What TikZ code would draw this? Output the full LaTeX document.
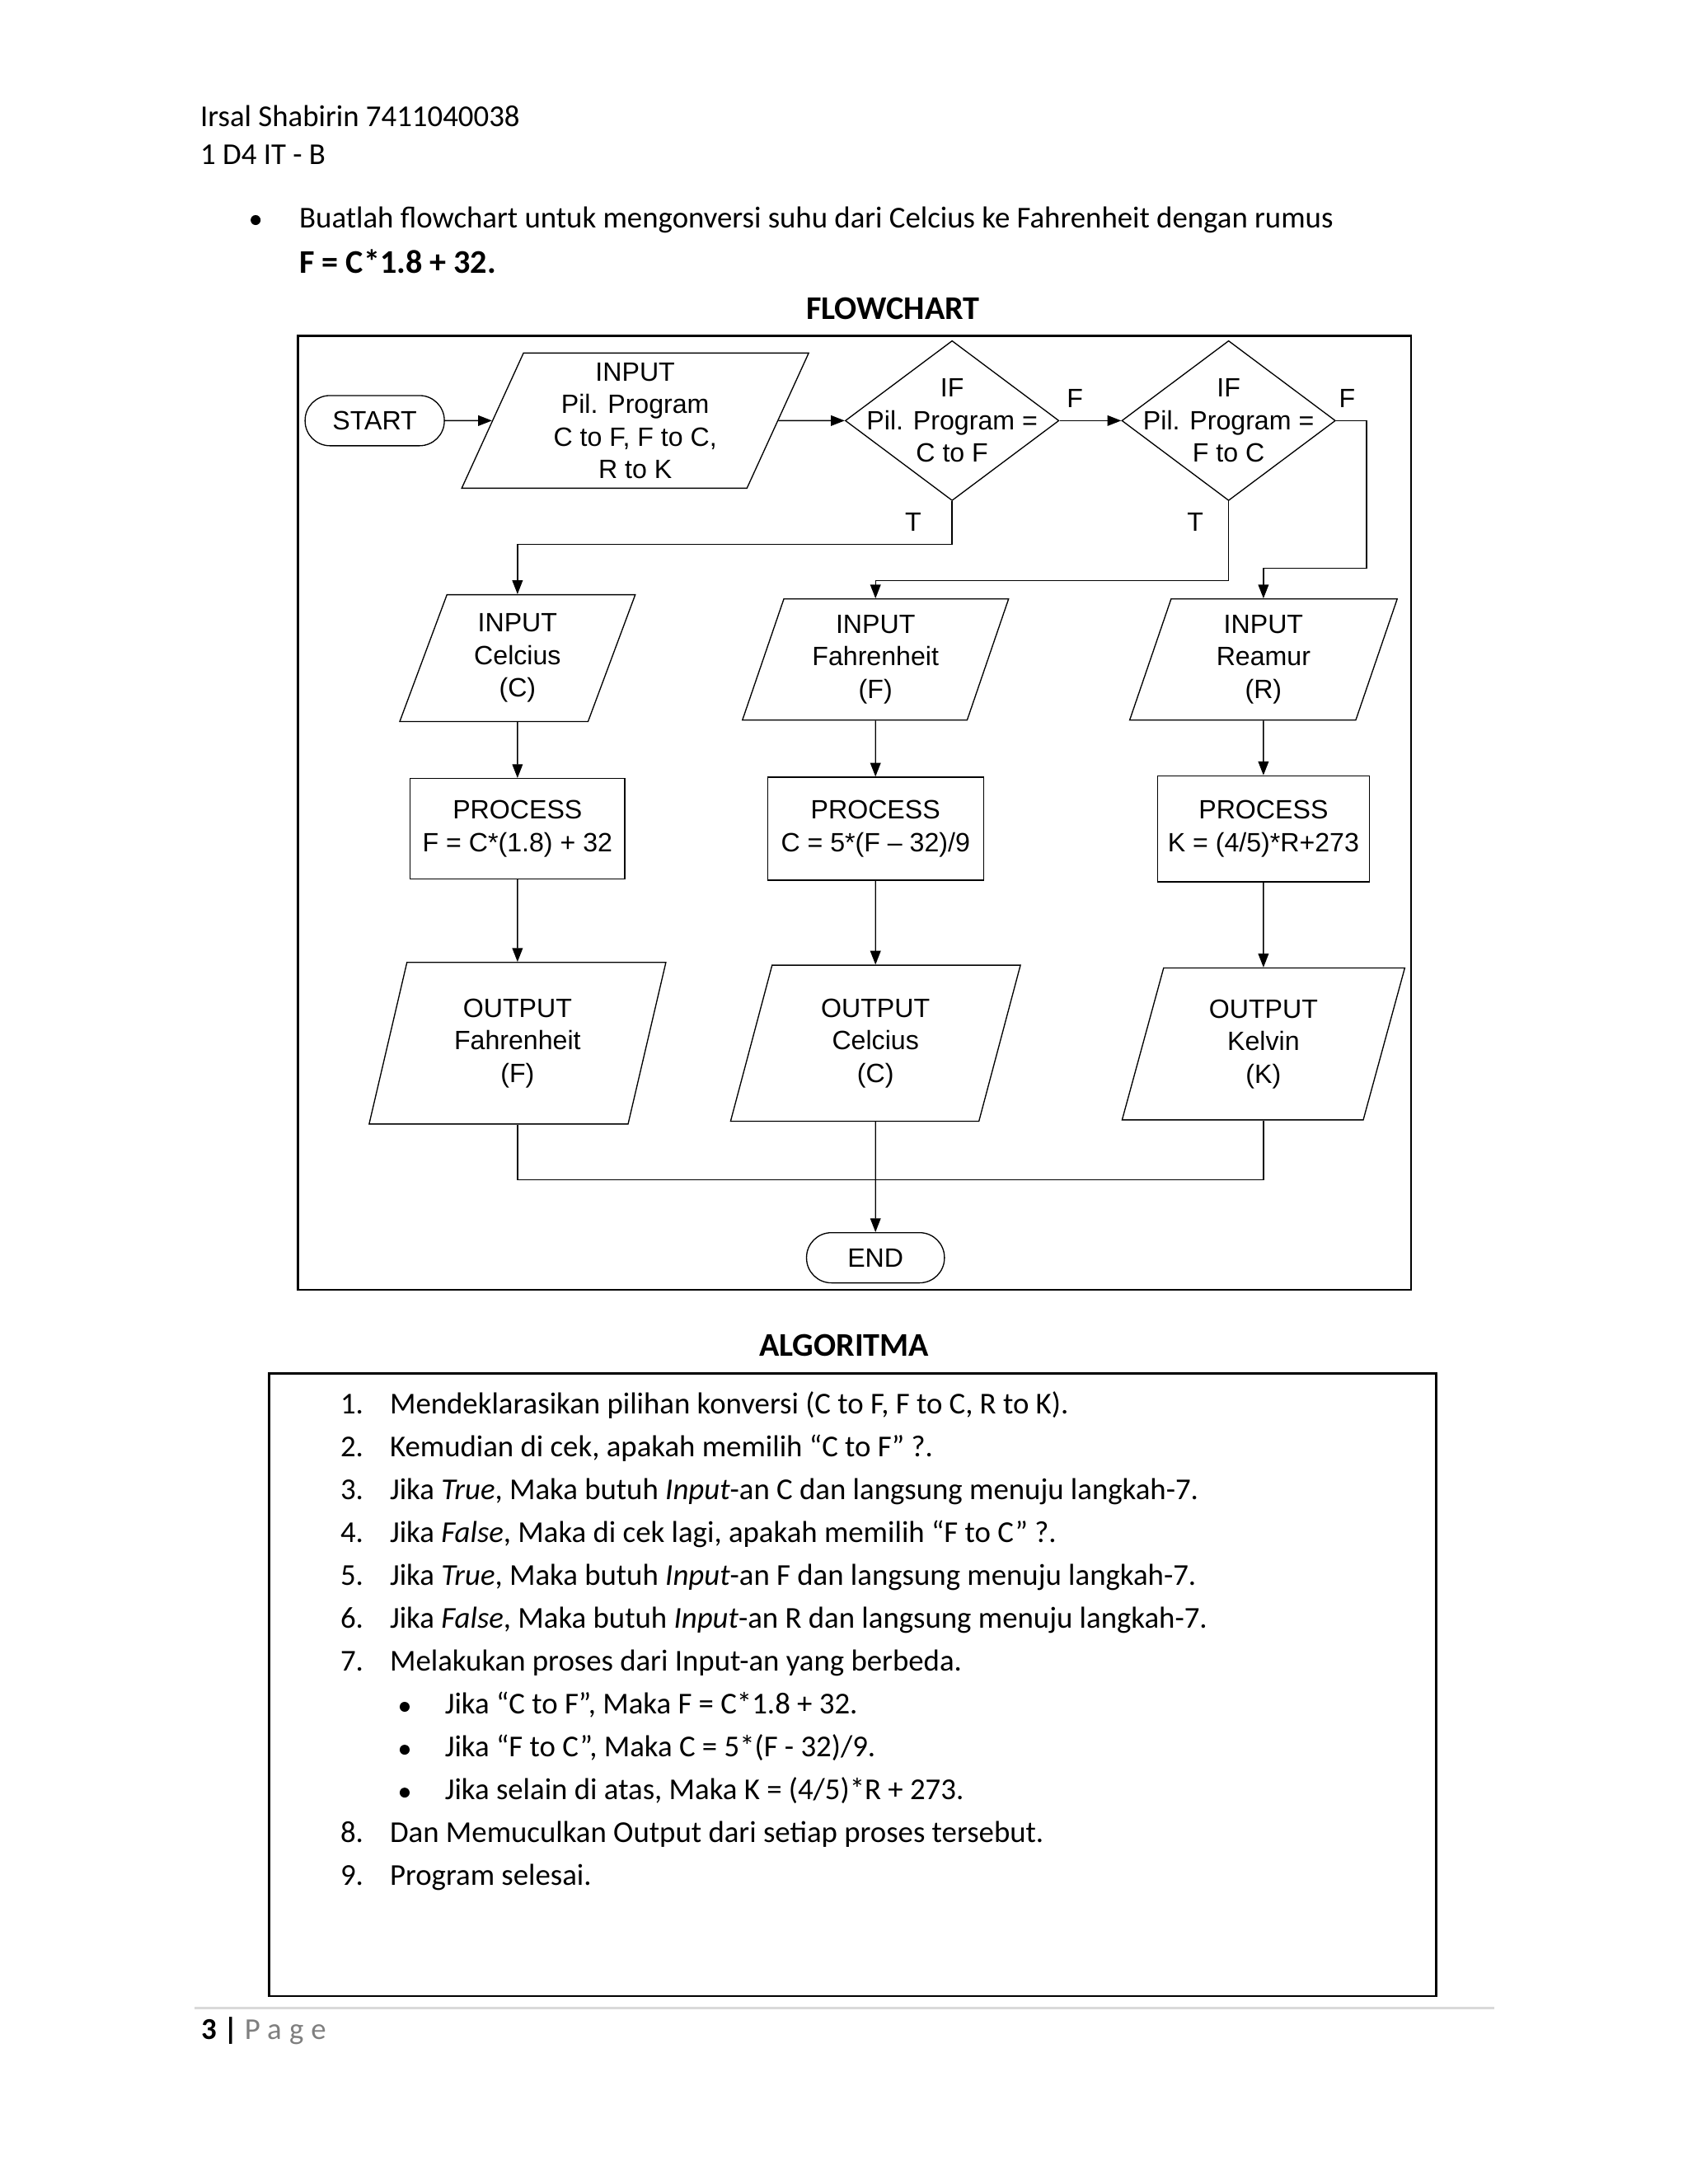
\documentclass[tikz,border=0pt]{standalone}
\usepackage{fontspec}
\setmainfont{Carlito}
\newfontfamily\chartfont{Liberation Sans}
\usetikzlibrary{shapes.geometric,arrows.meta,positioning,calc}
\definecolor{rulegray}{HTML}{D9D9D9}
\definecolor{pagegray}{HTML}{7F7F7F}

\tikzset{
    chart/.style={font=\chartfont\fontsize{9.6}{11.8}\selectfont, align=center},
    shape line/.style={draw, line width=0.4pt},
    terminal/.style={shape line, chart, rectangle, rounded corners=9pt, minimum width=50.5pt, minimum height=18.2pt, inner sep=0pt},
    io/.style={shape line, chart, trapezium, trapezium left angle=65, trapezium right angle=115, trapezium stretches body, inner sep=0pt},
    process/.style={shape line, chart, rectangle, inner sep=0pt},
    decision/.style={shape line, diamond, inner sep=0pt, minimum width=77.5pt, minimum height=58pt},
    arr/.style={-{Triangle[length=5pt,width=3.8pt]}, line width=0.4pt},
    link/.style={line width=0.4pt},
    body/.style={anchor=base west, inner sep=0pt, font=\fontsize{11}{13.4}\selectfont},
    heading/.style={anchor=base, inner sep=0pt, font=\fontsize{12}{14}\selectfont\bfseries},
    dot/.style={circle, fill, inner sep=0pt, minimum size=3.6pt}
}

\begin{document}
\begin{tikzpicture}[x=0.5051pt, y=-0.5051pt]
    \path[fill=white, use as bounding box] (0,0) rectangle (1211.6,1568);

    % header
    \node[body] (nama) at (143.5,91.1) {Irsal Shabirin 7411040038};
    \node[body] (kelas) at (143.5,117.8) {1 D4 IT - B};
    \node[dot] (titik) at (183.5,158) {};
    \node[body] (tugas) at (214.5,163.7) {Buatlah flowchart untuk mengonversi suhu dari Celcius ke Fahrenheit dengan rumus};
    \node[body, font=\fontsize{12}{14}\selectfont\bfseries] (rumus) at (214.5,196.4) {F = C*1.8 + 32.};
    \node[heading] (judulfc) at (641,229.5) {FLOWCHART};

    % flowchart
    \draw[line width=0.8pt] (214,241) rectangle (1013,926);

    \node[terminal] (start) at (269,302) {START};
    \node[io, trapezium left angle=62, trapezium right angle=118, minimum width=125.8pt, minimum height=49pt] (pilih) at (456,302) {INPUT\\Pil. Program\\C to F, F to C,\\R to K};
    \node[decision] (ifcf) at (683.5,302) {};
    \node[chart] (ifcftxt) at (ifcf) {IF\\Pil. Program =\\C to F};
    \node[decision] (iffc) at (882,302) {};
    \node[chart] (iffctxt) at (iffc) {IF\\Pil. Program =\\F to C};

    \node[io, trapezium left angle=62, trapezium right angle=118, minimum width=85.4pt, minimum height=46pt] (inC) at (371.5,472.5) {INPUT\\Celcius\\(C)};
    \node[io, minimum width=96.5pt, minimum height=43.9pt] (inF) at (628.5,473.5) {INPUT\\Fahrenheit\\(F)};
    \node[io, minimum width=97pt, minimum height=43.9pt] (inR) at (907,473.5) {INPUT\\Reamur\\(R)};

    \node[process, minimum width=77.8pt, minimum height=36.4pt] (prC) at (371.5,595) {PROCESS\\F = C*(1.8) + 32};
    \node[process, minimum width=78.3pt, minimum height=37.4pt] (prF) at (628.5,595) {PROCESS\\C = 5*(F – 32)/9};
    \node[process, minimum width=76.8pt, minimum height=38.4pt] (prR) at (907,595) {PROCESS\\K = (4/5)*R+273};

    \node[io, trapezium left angle=67, trapezium right angle=113, minimum width=107.6pt, minimum height=58.6pt] (outF) at (371.5,749) {OUTPUT\\Fahrenheit\\(F)};
    \node[io, minimum width=105.1pt, minimum height=56.6pt] (outC) at (628.5,749) {OUTPUT\\Celcius\\(C)};
    \node[io, minimum width=102.5pt, minimum height=55.1pt] (outK) at (907,749.5) {OUTPUT\\Kelvin\\(K)};

    \node[terminal, minimum width=50pt] (end) at (628.5,903) {END};

    \node[chart] (fa) at ($(ifcf.east)+(11,-16)$) {F};
    \node[chart] (fb) at ($(iffc.east)+(8,-16)$) {F};
    \node[chart] (ta) at ($(ifcf.south)+(-28,15)$) {T};
    \node[chart] (tb) at ($(iffc.south)+(-24,15)$) {T};

    \coordinate (belok) at (981,408);
    \coordinate (gabung) at (628.5,847);

    \draw[arr] (start) -- (pilih);
    \draw[arr] (pilih) -- (ifcf);
    \draw[arr] (ifcf) -- (iffc);
    \draw[arr] (ifcf.south) -- ++(0,31) -| (inC.north);
    \draw[arr] (iffc.south) -- ++(0,57) -| (inF.north);
    \draw[arr] (iffc.east) -| (belok) -| (inR.north);
    \foreach \a/\b in {inC/prC, inF/prF, inR/prR, prC/outF, prF/outC, prR/outK}
        \draw[arr] (\a.south) -- (\b.north);
    \draw[link] (outF.south) |- (gabung) -| (outK.south);
    \draw[arr] (outC.south) -- (end.north);

    % algoritma
    \node[heading] (judulalg) at (606,973.5) {ALGORITMA};
    \draw[line width=0.8pt] (193,986) rectangle (1031,1433);

    \foreach \r/\n/\t in {
        1/1./{Mendeklarasikan pilihan konversi (C to F, F to C, R to K).},
        2/2./{Kemudian di cek, apakah memilih “C to F” ?.},
        3/3./{Jika \textit{True}, Maka butuh \textit{Input}-an C dan langsung menuju langkah-7.},
        4/4./{Jika \textit{False}, Maka di cek lagi, apakah memilih “F to C” ?.},
        5/5./{Jika \textit{True}, Maka butuh \textit{Input}-an F dan langsung menuju langkah-7.},
        6/6./{Jika \textit{False}, Maka butuh \textit{Input}-an R dan langsung menuju langkah-7.},
        7/7./{Melakukan proses dari Input-an yang berbeda.},
        11/8./{Dan Memuculkan Output dari setiap proses tersebut.},
        12/9./{Program selesai.}}{
        \node[body] (no\r) at (244,{1014.8+30.8*(\r-1)}) {\n};
        \node[body] (langkah\r) at (279.5,{1014.8+30.8*(\r-1)}) {\t};
    }
    \foreach \r/\t in {
        8/{Jika “C to F”, Maka F = C*1.8 + 32.},
        9/{Jika “F to C”, Maka C = 5*(F - 32)/9.},
        10/{Jika selain di atas, Maka K = (4/5)*R + 273.}}{
        \node[dot] (poin\r) at (290.5,{1009.8+30.8*(\r-1)}) {};
        \node[body] (langkah\r) at (319,{1014.8+30.8*(\r-1)}) {\t};
    }

    % footer
    \draw[rulegray, line width=0.8pt] (139.6,1441.5) -- (1072.8,1441.5);
    \node[body] (hal) at (144,1464) {\textbf{3 |} {\color{pagegray}\addfontfeature{LetterSpace=25}Page}};
\end{tikzpicture}
\end{document}
